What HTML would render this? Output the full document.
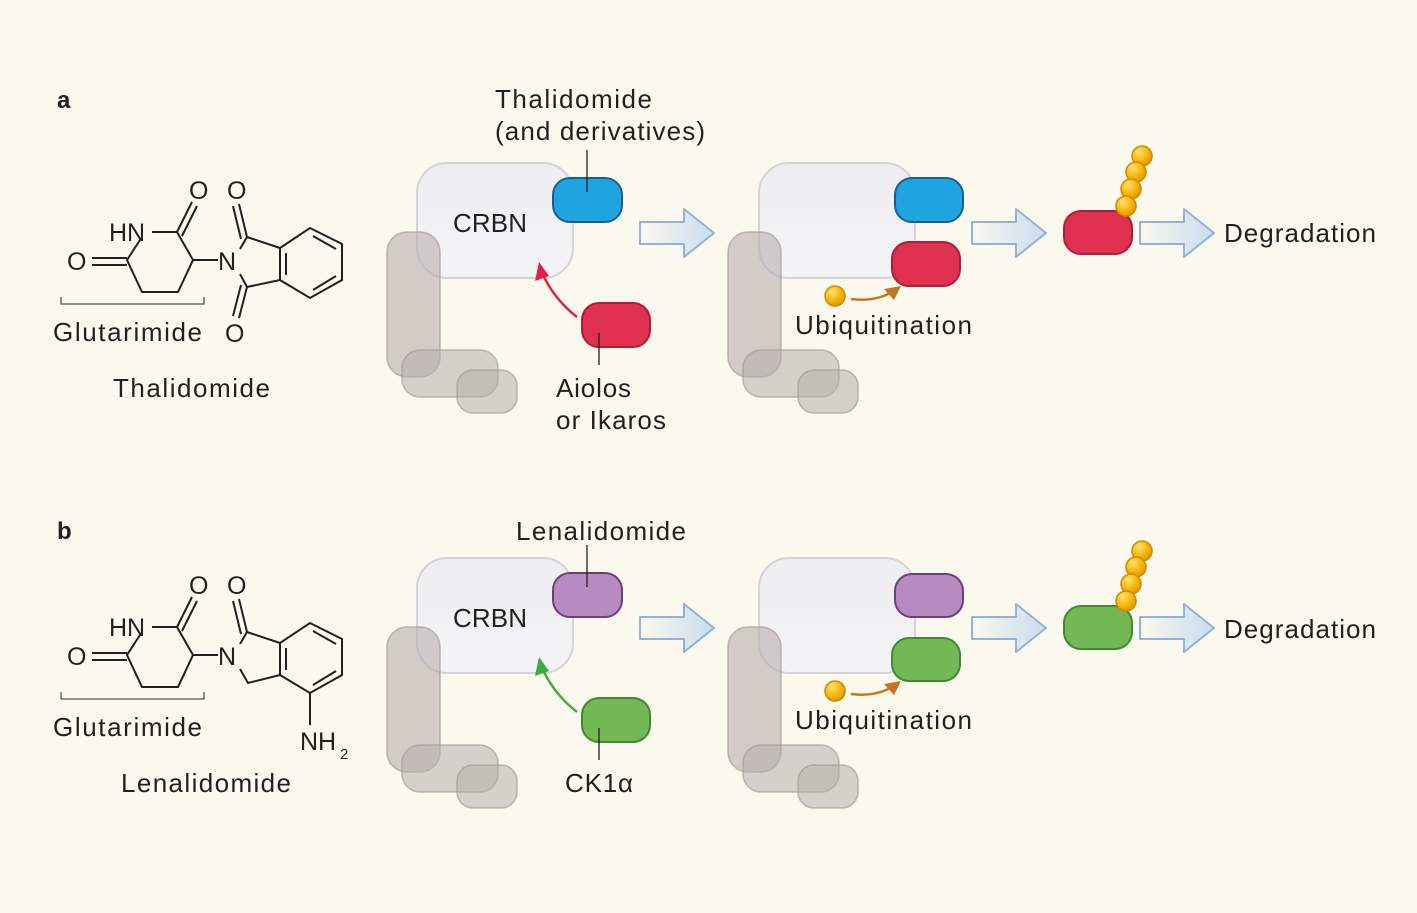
<!DOCTYPE html>
<html><head><meta charset="utf-8"><style>
html,body{margin:0;padding:0;background:#fbf8ee;}
svg{display:block;}
text{font-family:"Liberation Sans",sans-serif;fill:#231f20;}
</style></head><body>
<svg width="1417" height="913" viewBox="0 0 1417 913" xmlns="http://www.w3.org/2000/svg">
<defs>
<linearGradient id="arr" x1="0" x2="1" y1="0" y2="0"><stop offset="0" stop-color="#fbf8ee"/><stop offset="1" stop-color="#c9dcef"/></linearGradient>
<linearGradient id="crbn" x1="0" x2="0" y1="0" y2="1"><stop offset="0" stop-color="#eeeef0"/><stop offset="1" stop-color="#f4f4f6"/></linearGradient>
<radialGradient id="ball" cx="0.35" cy="0.3" r="0.7"><stop offset="0" stop-color="#ffe070"/><stop offset="0.6" stop-color="#f7b70f"/><stop offset="1" stop-color="#e39a00"/></radialGradient>
<g id="arrow"><path d="M0,-11 H44 V-24 L74,0 L44,24 V11 H0 Z" fill="url(#arr)" stroke="#8fb3d9" stroke-width="2" stroke-linejoin="round"/></g>
<g id="complex">
<rect x="417" y="163" width="156" height="115" rx="30" fill="url(#crbn)" stroke="#d4d4d6" stroke-width="2"/>
<rect x="387" y="232" width="53" height="145" rx="20" fill="#b7aeab" fill-opacity="0.6" stroke="#a59c99" stroke-opacity="0.7" stroke-width="1.5"/>
<rect x="402" y="350" width="96" height="47" rx="18" fill="#b7aeab" fill-opacity="0.55" stroke="#a59c99" stroke-opacity="0.7" stroke-width="1.5"/>
<rect x="457" y="370" width="60" height="43" rx="16" fill="#b7aeab" fill-opacity="0.55" stroke="#a59c99" stroke-opacity="0.7" stroke-width="1.5"/>
</g>
<g id="complex2">
<rect x="759" y="163" width="156" height="115" rx="30" fill="url(#crbn)" stroke="#d4d4d6" stroke-width="2"/>
<rect x="728" y="232" width="53" height="145" rx="20" fill="#b7aeab" fill-opacity="0.6" stroke="#a59c99" stroke-opacity="0.7" stroke-width="1.5"/>
<rect x="743" y="350" width="96" height="47" rx="18" fill="#b7aeab" fill-opacity="0.55" stroke="#a59c99" stroke-opacity="0.7" stroke-width="1.5"/>
<rect x="798" y="370" width="60" height="43" rx="16" fill="#b7aeab" fill-opacity="0.55" stroke="#a59c99" stroke-opacity="0.7" stroke-width="1.5"/>
</g>
<g id="balls">
<circle cx="1142" cy="156" r="10" fill="url(#ball)" stroke="#d08a00" stroke-width="1.5"/>
<circle cx="1136" cy="172" r="10" fill="url(#ball)" stroke="#d08a00" stroke-width="1.5"/>
<circle cx="1131" cy="189" r="10" fill="url(#ball)" stroke="#d08a00" stroke-width="1.5"/>
<circle cx="1126" cy="206" r="10" fill="url(#ball)" stroke="#d08a00" stroke-width="1.5"/>
</g>
<g id="ub">
<circle cx="835" cy="296" r="10" fill="url(#ball)" stroke="#d08a00" stroke-width="1.5"/>
<path d="M851,299 Q875,302 892,292" fill="none" stroke="#c7761b" stroke-width="2.5"/>
<path d="M901,286 L884,289 L894,300 Z" fill="#c7761b"/>
</g>
<g id="ring" fill="none" stroke="#231f20" stroke-width="2">
<path d="M152,232 H177 L193,260 L178,292 H142 L127,260 L140,240"/>
<path d="M127,258 H92 M127,265 H92"/>
<path d="M177,232 L192,202 M182,236 L197,206"/>
<path d="M193,260 H218"/>
<path d="M61,297 V304 H204 V297" stroke="#555" stroke-width="1.3"/>
<path d="M240,249 L247,237 L280,248"/>
<path d="M280,248 L310,228 L342,244 L342,280 L310,298 L280,280 Z"/>
<path d="M286,253 L286,275 M313,236 L336,249 M313,290 L336,276"/>
<path d="M247,237 L239,204 M241,239 L233,206"/>
</g>
</defs>

<text x="57" y="108" font-size="24" font-weight="bold">a</text>
<text x="57" y="539" font-size="24" font-weight="bold">b</text>

<!-- Panel a chemistry -->
<use href="#ring"/>
<g fill="none" stroke="#231f20" stroke-width="2">
<path d="M240,274 L247,287 L280,280"/>
<path d="M247,287 L239,318 M241,285 L233,316"/>
</g>
<text x="109" y="241" font-size="25">HN</text>
<text x="67" y="270" font-size="25">O</text>
<text x="189" y="199" font-size="25">O</text>
<text x="227" y="199" font-size="25">O</text>
<text x="218" y="270" font-size="25">N</text>
<text x="225" y="342" font-size="25">O</text>
<text x="53" y="341" font-size="26" textLength="149">Glutarimide</text>
<text x="113" y="397" font-size="26" textLength="157">Thalidomide</text>

<!-- Panel b chemistry -->
<g transform="translate(0,395)"><use href="#ring"/>
<g fill="none" stroke="#231f20" stroke-width="2">
<path d="M240,274 L248,288 L280,280"/>
<path d="M310,298 V330"/>
</g></g>
<text x="109" y="636" font-size="25">HN</text>
<text x="67" y="665" font-size="25">O</text>
<text x="189" y="594" font-size="25">O</text>
<text x="227" y="594" font-size="25">O</text>
<text x="218" y="665" font-size="25">N</text>
<text x="300" y="750" font-size="25">NH</text>
<text x="340" y="759" font-size="15">2</text>
<text x="53" y="736" font-size="26" textLength="149">Glutarimide</text>
<text x="121" y="792" font-size="26" textLength="170">Lenalidomide</text>

<!-- Panel a complexes -->
<use href="#complex"/>
<text x="453" y="232" font-size="26" textLength="74">CRBN</text>
<rect x="553" y="178" width="69" height="44" rx="17" fill="#1fa4e0" stroke="#1a5f93" stroke-width="2"/>
<line x1="587" y1="150" x2="587" y2="192" stroke="#231f20" stroke-width="1.3"/>
<text x="495" y="108" font-size="26" textLength="157">Thalidomide</text>
<text x="495" y="140" font-size="26" textLength="210">(and derivatives)</text>
<rect x="582" y="303" width="68" height="44" rx="17" fill="#e0304f" stroke="#a8203d" stroke-width="2"/>
<line x1="599" y1="333" x2="599" y2="365" stroke="#231f20" stroke-width="1.3"/>
<path d="M577,317 Q555,300 543,275" fill="none" stroke="#e0204a" stroke-width="2.5"/>
<path d="M539,262 L535,281 L549,276 Z" fill="#e0204a"/>
<text x="556" y="397" font-size="26" textLength="75">Aiolos</text>
<text x="556" y="429" font-size="26" textLength="110">or Ikaros</text>

<g transform="translate(640,233)"><use href="#arrow"/></g>
<use href="#complex2"/>
<rect x="895" y="178" width="68" height="44" rx="17" fill="#1fa4e0" stroke="#1a5f93" stroke-width="2"/>
<rect x="892" y="242" width="68" height="44" rx="17" fill="#e0304f" stroke="#a8203d" stroke-width="2"/>
<use href="#ub"/>
<text x="795" y="334" font-size="26" textLength="177">Ubiquitination</text>
<g transform="translate(972,233)"><use href="#arrow"/></g>
<rect x="1064" y="211" width="68" height="43" rx="17" fill="#e0304f" stroke="#a8203d" stroke-width="2"/>
<use href="#balls"/>
<g transform="translate(1140,233)"><use href="#arrow"/></g>
<text x="1224" y="242" font-size="26" textLength="152">Degradation</text>

<!-- Panel b complexes -->
<g transform="translate(0,395)"><use href="#complex"/></g>
<text x="453" y="627" font-size="26" textLength="74">CRBN</text>
<rect x="553" y="573" width="69" height="44" rx="17" fill="#b78ac0" stroke="#6e3d80" stroke-width="2"/>
<line x1="587" y1="545" x2="587" y2="587" stroke="#231f20" stroke-width="1.3"/>
<text x="516" y="540" font-size="26" textLength="170">Lenalidomide</text>
<rect x="582" y="698" width="68" height="44" rx="17" fill="#72b956" stroke="#3f8a33" stroke-width="2"/>
<line x1="599" y1="728" x2="599" y2="760" stroke="#231f20" stroke-width="1.3"/>
<path d="M577,712 Q555,695 543,670" fill="none" stroke="#3caa3c" stroke-width="2.5"/>
<path d="M539,657 L535,676 L549,671 Z" fill="#3caa3c"/>
<text x="565" y="792" font-size="26" textLength="68">CK1α</text>

<g transform="translate(640,628)"><use href="#arrow"/></g>
<g transform="translate(0,395)"><use href="#complex2"/></g>
<rect x="895" y="574" width="68" height="43" rx="17" fill="#b78ac0" stroke="#6e3d80" stroke-width="2"/>
<rect x="892" y="638" width="68" height="43" rx="17" fill="#72b956" stroke="#3f8a33" stroke-width="2"/>
<g transform="translate(0,395)"><use href="#ub"/></g>
<text x="795" y="729" font-size="26" textLength="177">Ubiquitination</text>
<g transform="translate(972,628)"><use href="#arrow"/></g>
<rect x="1064" y="606" width="68" height="43" rx="17" fill="#72b956" stroke="#3f8a33" stroke-width="2"/>
<g transform="translate(0,395)"><use href="#balls"/></g>
<g transform="translate(1140,628)"><use href="#arrow"/></g>
<text x="1224" y="638" font-size="26" textLength="152">Degradation</text>
</svg>
</body></html>
